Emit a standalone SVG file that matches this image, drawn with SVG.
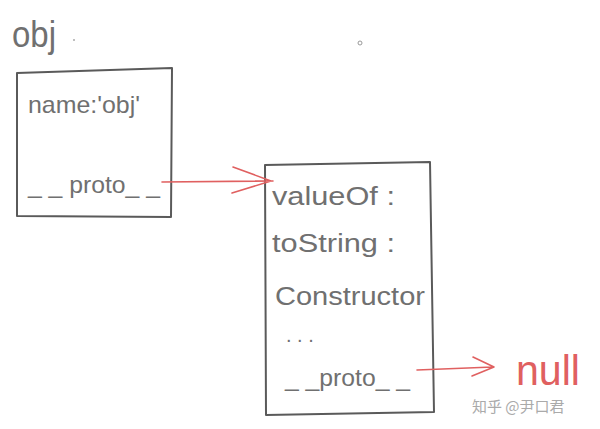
<svg xmlns="http://www.w3.org/2000/svg" width="600" height="429" viewBox="0 0 600 429">
<style>
.box{fill:none;stroke:#5a5a5a;stroke-width:2;stroke-linejoin:round}
.t{font-family:"Liberation Sans",Arial,sans-serif;fill:#707070}
.red{stroke:#e06060;stroke-width:1.6;fill:none;stroke-linecap:round;stroke-linejoin:round}
</style>
<rect width="600" height="429" fill="#ffffff"/>
<text class="t" x="12" y="47" font-size="36" textLength="44" lengthAdjust="spacingAndGlyphs">obj</text>
<circle cx="74" cy="40" r="1" fill="#aaa"/>
<circle cx="360" cy="43" r="2" fill="none" stroke="#999" stroke-width="1"/>
<g id="obj">
<path class="box" d="M17 73 L172 68 L171 217 L17 216 Z"/>
<text class="t" x="28" y="113" font-size="24" textLength="112" lengthAdjust="spacingAndGlyphs">name:'obj'</text>
<text class="t" x="28" y="193" font-size="24" textLength="132" lengthAdjust="spacingAndGlyphs">_ _ proto_ _</text>
</g>
<g id="proto">
<path class="box" d="M265 165 L430 162 L434 412 L266 415 Z"/>
<text class="t" x="272" y="205" font-size="25" textLength="123" lengthAdjust="spacingAndGlyphs">valueOf :</text>
<text class="t" x="272" y="252" font-size="25" textLength="123" lengthAdjust="spacingAndGlyphs">toString :</text>
<text class="t" x="275" y="305" font-size="25" textLength="150" lengthAdjust="spacingAndGlyphs">Constructor</text>
<text class="t" x="286" y="342" font-size="20">. . .</text>
<text class="t" x="285" y="386" font-size="24" textLength="125" lengthAdjust="spacingAndGlyphs">_ _proto_ _</text>
</g>
<g id="null">
<text x="516" y="385" font-size="42" font-family="Liberation Sans, Arial, sans-serif" fill="#e06060" textLength="64" lengthAdjust="spacingAndGlyphs">null</text>
</g>
<g id="connectors">
<path class="red" d="M162 182 L273 181 M233 167 L271 181 L232 193"/>
<path class="red" d="M417 370 L493 367 M473 357 L494 367 L472 376"/>
</g>
<text x="472" y="412" font-size="15" font-family="Noto Sans CJK SC, sans-serif" fill="#aaa">知乎 @尹口君</text>
</svg>
